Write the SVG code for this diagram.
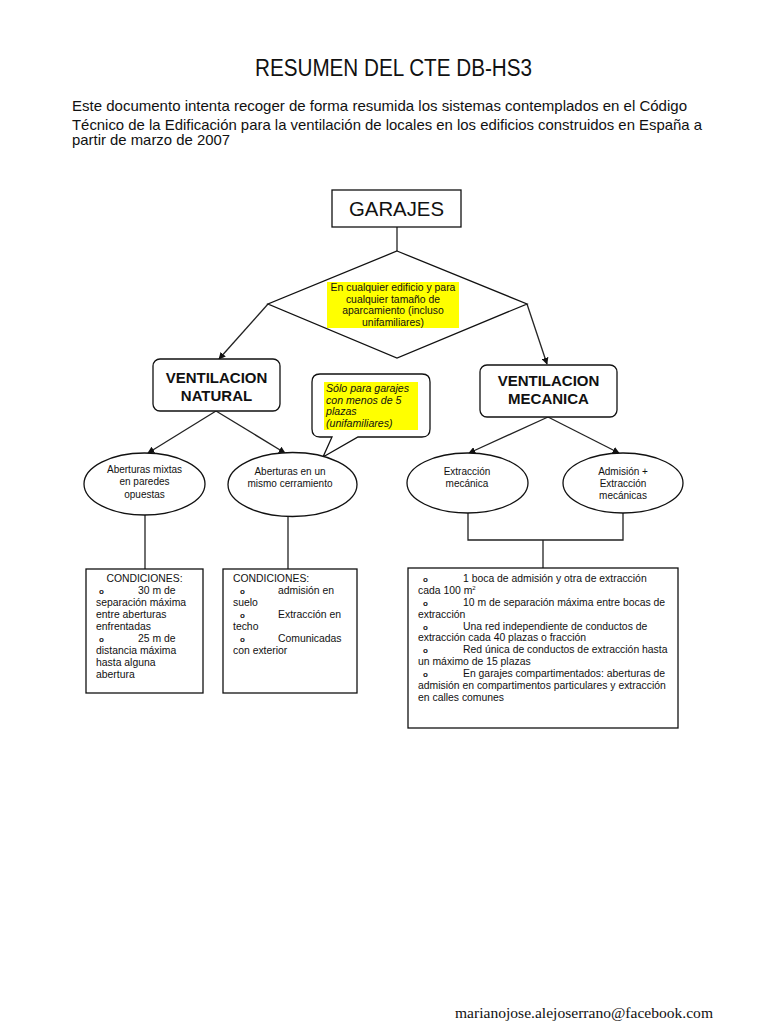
<svg xmlns="http://www.w3.org/2000/svg" width="768" height="1024" viewBox="0 0 768 1024">
<style>
text{font-family:"Liberation Sans",Arial,Helvetica,sans-serif;fill:#111}
.box{fill:#fff;stroke:#111;stroke-width:1.3}
.ln{fill:none;stroke:#222;stroke-width:1.3}
.hl{fill:#ffff00}
.t10{font-size:10px}
.t104{font-size:10.4px}
.bold{font-weight:bold;font-size:15px}
.c{text-anchor:middle}
.it{font-style:italic;font-size:10.6px}
.bul{font-size:8px;font-weight:bold}
</style>
<defs>
<marker id="ah" viewBox="0 0 10 10" refX="9" refY="5" markerWidth="7" markerHeight="7" markerUnits="userSpaceOnUse" orient="auto">
<path d="M0,0 L10,5 L0,10 z" fill="#111"/>
</marker>
</defs>
<rect width="768" height="1024" fill="#fff"/>

<g id="header">
<text x="393.5" y="76" class="c" font-size="23" textLength="277" lengthAdjust="spacingAndGlyphs">RESUMEN DEL CTE DB-HS3</text>
<text x="72" y="111" font-size="14.5" textLength="615" lengthAdjust="spacingAndGlyphs">Este documento intenta recoger de forma resumida los sistemas contemplados en el Código</text>
<text x="72" y="130" font-size="14.5" textLength="630" lengthAdjust="spacingAndGlyphs">Técnico de la Edificación para la ventilación de locales en los edificios construidos en España a</text>
<text x="72" y="145" font-size="14.5" textLength="158" lengthAdjust="spacingAndGlyphs">partir de marzo de 2007</text>
</g>

<g id="connectors">
<line class="ln" x1="397" y1="227" x2="397" y2="251"/>
<line class="ln" x1="268" y1="304" x2="219" y2="359" marker-end="url(#ah)"/>
<line class="ln" x1="527" y1="304" x2="547" y2="364" marker-end="url(#ah)"/>
<line class="ln" x1="216" y1="411" x2="148" y2="453" marker-end="url(#ah)"/>
<line class="ln" x1="216" y1="411" x2="285" y2="453" marker-end="url(#ah)"/>
<line class="ln" x1="548" y1="417" x2="469" y2="453" marker-end="url(#ah)"/>
<line class="ln" x1="548" y1="417" x2="619" y2="453" marker-end="url(#ah)"/>
<line class="ln" x1="145" y1="515" x2="145" y2="569"/>
<line class="ln" x1="288" y1="516" x2="288" y2="569"/>
<polyline class="ln" points="468,513 468,540 623,540 623,513"/>
<line class="ln" x1="543" y1="540" x2="543" y2="568"/>
</g>

<g id="garajes">
<rect class="box" x="332" y="190" width="129" height="37"/>
<text x="396.5" y="216" class="c" font-size="21" textLength="95" lengthAdjust="spacingAndGlyphs">GARAJES</text>
</g>

<g id="diamond">
<polygon class="box" points="397,251 527,304 397,358 268,304"/>
<rect class="hl" x="327" y="282" width="132" height="46"/>
<text class="t104 c" x="393" y="291">En cualquier edificio y para</text>
<text class="t104 c" x="393" y="302.5">cualquier tamaño de</text>
<text class="t104 c" x="393" y="314">aparcamiento (incluso</text>
<text class="t104 c" x="393" y="325.5">unifamiliares)</text>
</g>

<g id="vent-natural">
<rect class="box" x="153" y="359" width="127" height="52" rx="7"/>
<text class="bold c" x="216.5" y="383">VENTILACION</text>
<text class="bold c" x="216.5" y="401">NATURAL</text>
</g>

<g id="callout">
<path class="box" d="M320,374 H422 Q430,374 430,382 V429 Q430,437 422,437 H358 L323,457 L332,437 H320 Q312,437 312,429 V382 Q312,374 320,374 Z"/>
<rect class="hl" x="324" y="382" width="94" height="48"/>
<text class="it" x="326" y="392">Sólo para garajes</text>
<text class="it" x="326" y="403.5">con menos de 5</text>
<text class="it" x="326" y="415">plazas</text>
<text class="it" x="326" y="426.5">(unifamiliares)</text>
</g>

<g id="vent-mecanica">
<rect class="box" x="480" y="365" width="137" height="52" rx="7"/>
<text class="bold c" x="548.5" y="385.5">VENTILACION</text>
<text class="bold c" x="548.5" y="404">MECANICA</text>
</g>

<g id="aberturas-mixtas">
<ellipse class="box" cx="144.5" cy="484" rx="60.5" ry="31"/>
<text class="t10 c" x="144.5" y="472.5">Aberturas mixtas</text>
<text class="t10 c" x="144.5" y="485">en paredes</text>
<text class="t10 c" x="144.5" y="497.5">opuestas</text>
</g>

<g id="aberturas-cerramiento">
<ellipse class="box" cx="292.5" cy="484.5" rx="64.5" ry="32"/>
<text class="t10 c" x="290" y="474.5">Aberturas en un</text>
<text class="t10 c" x="290" y="487">mismo cerramiento</text>
</g>

<g id="extraccion">
<ellipse class="box" cx="467.5" cy="483" rx="60.5" ry="30"/>
<text class="t10 c" x="467" y="475">Extracción</text>
<text class="t10 c" x="467" y="487">mecánica</text>
</g>

<g id="admision">
<ellipse class="box" cx="623" cy="483" rx="60" ry="30"/>
<text class="t10 c" x="623" y="475">Admisión +</text>
<text class="t10 c" x="623" y="487">Extracción</text>
<text class="t10 c" x="623" y="499">mecánicas</text>
</g>

<g id="cond-natural-1">
<rect class="box" x="86" y="569" width="117" height="124"/>
<text class="t104 c" x="144.5" y="582">CONDICIONES:</text>
<text class="bul" x="99" y="594">o</text>
<text class="t104" x="138" y="594">30 m de</text>
<text class="t104" x="96" y="606">separación máxima</text>
<text class="t104" x="96" y="618">entre aberturas</text>
<text class="t104" x="96" y="630">enfrentadas</text>
<text class="bul" x="99" y="642">o</text>
<text class="t104" x="138" y="642">25 m de</text>
<text class="t104" x="96" y="654">distancia máxima</text>
<text class="t104" x="96" y="666">hasta alguna</text>
<text class="t104" x="96" y="678">abertura</text>
</g>

<g id="cond-natural-2">
<rect class="box" x="223" y="569" width="134" height="124"/>
<text class="t104" x="233" y="582">CONDICIONES:</text>
<text class="bul" x="240" y="594">o</text>
<text class="t104" x="278" y="594">admisión en</text>
<text class="t104" x="233" y="606">suelo</text>
<text class="bul" x="240" y="618">o</text>
<text class="t104" x="278" y="618">Extracción en</text>
<text class="t104" x="233" y="630">techo</text>
<text class="bul" x="240" y="642">o</text>
<text class="t104" x="278" y="642">Comunicadas</text>
<text class="t104" x="233" y="654">con exterior</text>
</g>

<g id="cond-mecanica">
<rect class="box" x="408" y="568" width="270" height="160"/>
<text class="bul" x="423" y="582">o</text>
<text class="t104" x="463" y="582">1 boca de admisión  y otra de extracción</text>
<text class="t104" x="418" y="594">cada 100 m<tspan font-size="6" dy="-4">2</tspan></text>
<text class="bul" x="423" y="606">o</text>
<text class="t104" x="463" y="606">10 m de separación máxima entre bocas de</text>
<text class="t104" x="418" y="617.5">extracción</text>
<text class="bul" x="423" y="629.5">o</text>
<text class="t104" x="463" y="629.5">Una red independiente de conductos de</text>
<text class="t104" x="418" y="641">extracción cada 40 plazas o fracción</text>
<text class="bul" x="423" y="653">o</text>
<text class="t104" x="463" y="653">Red única de conductos de extracción hasta</text>
<text class="t104" x="418" y="664.5">un máximo de 15 plazas</text>
<text class="bul" x="423" y="677">o</text>
<text class="t104" x="463" y="677">En garajes compartimentados: aberturas de</text>
<text class="t104" x="418" y="689">admisión en compartimentos particulares y extracción</text>
<text class="t104" x="418" y="701">en calles comunes</text>
</g>

<g id="footer">
<text x="455" y="1018" font-family="'Liberation Serif','Times New Roman',serif" font-size="14" textLength="258" lengthAdjust="spacingAndGlyphs" style="font-family:'Liberation Serif','Times New Roman',serif">marianojose.alejoserrano@facebook.com</text>
</g>
</svg>
